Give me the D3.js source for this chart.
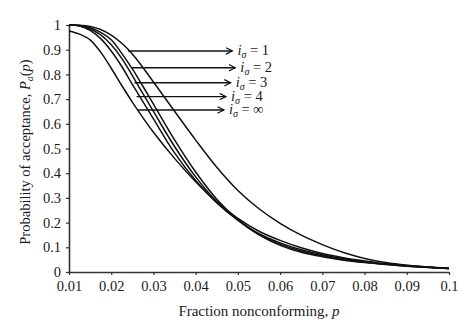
<!DOCTYPE html>
<html><head><meta charset="utf-8">
<script src="https://cdn.jsdelivr.net/npm/d3@7"></script>
<style>
html,body{margin:0;padding:0;background:#fff;}
svg text{font-family:"Liberation Serif","DejaVu Serif",serif;fill:#1a1a1a;}
</style>
</head><body>
<svg id="c" width="474" height="336"></svg>
<script>
// ---- data ----
const pValues = [0.01,0.0125,0.015,0.0175,0.02,0.0225,0.025,0.0275,0.03,0.035,0.04,0.045,0.05,0.055,0.06,0.065,0.07,0.075,0.08,0.085,0.09,0.095,0.1];
const pa_i1   = [1.000,0.999,0.994,0.982,0.959,0.926,0.883,0.828,0.769,0.651,0.534,0.424,0.330,0.256,0.197,0.149,0.111,0.079,0.055,0.038,0.027,0.020,0.014];
const pa_i2   = [1.000,0.998,0.989,0.970,0.940,0.885,0.822,0.752,0.680,0.535,0.405,0.295,0.212,0.150,0.108,0.080,0.062,0.048,0.038,0.030,0.023,0.018,0.014];
const pa_i3   = [1.000,0.997,0.984,0.960,0.920,0.865,0.795,0.722,0.650,0.508,0.385,0.285,0.210,0.152,0.113,0.085,0.066,0.051,0.040,0.031,0.024,0.019,0.014];
const pa_i4   = [1.000,0.996,0.978,0.945,0.895,0.832,0.760,0.690,0.620,0.482,0.370,0.280,0.210,0.155,0.118,0.090,0.070,0.054,0.042,0.032,0.025,0.019,0.014];
const pa_inf  = [0.976,0.963,0.940,0.890,0.825,0.755,0.688,0.625,0.566,0.460,0.365,0.283,0.217,0.165,0.128,0.098,0.075,0.058,0.045,0.034,0.026,0.020,0.015];
const seriesNames = ["1","2","3","4","∞"];
// arrow anchors: p on the curve and Pa level, label arrow tip p
const arrowP     = [0.0240,0.0248,0.0255,0.0260,0.0263];
const arrowPa    = [0.895,0.827,0.766,0.710,0.656];
const arrowTipP  = [0.0487,0.0494,0.0483,0.0472,0.0467];
const xTicks = [0.01,0.02,0.03,0.04,0.05,0.06,0.07,0.08,0.09,0.1];
const xTickLabels = ["0.01","0.02","0.03","0.04","0.05","0.06","0.07","0.08","0.09","0.1"];
const yTicks = [0,0.1,0.2,0.3,0.4,0.5,0.6,0.7,0.8,0.9,1];
const yTickLabels = ["0","0.1","0.2","0.3","0.4","0.5","0.6","0.7","0.8","0.9","1"];

const series = [pa_i1,pa_i2,pa_i3,pa_i4,pa_inf];

// ---- layout ----
const W=474,H=336, m={top:25,right:25,bottom:64,left:69};
const svg=d3.select("#c");
const x=d3.scaleLinear().domain([0.01,0.1]).range([m.left,W-m.right]);
const y=d3.scaleLinear().domain([0,1]).range([H-m.bottom,m.top]);

// axes
const xa=svg.append("g").attr("transform",`translate(0,${H-m.bottom})`)
  .call(d3.axisBottom(x).tickValues(xTicks).tickFormat((d,i)=>xTickLabels[i]).tickSize(3).tickSizeOuter(0));
const ya=svg.append("g").attr("transform",`translate(${m.left},0)`)
  .call(d3.axisLeft(y).tickValues(yTicks).tickFormat((d,i)=>yTickLabels[i]).tickSize(3).tickSizeOuter(0));
[xa,ya].forEach(g=>{
  g.select(".domain").attr("stroke","#333").attr("stroke-width",1.6);
  g.selectAll(".tick line").attr("stroke","#333").attr("stroke-width",1.2);
  g.selectAll(".tick text").attr("font-family","Liberation Serif, serif").attr("font-size",14.5).attr("fill","#1a1a1a");
});
xa.selectAll(".tick text").attr("dy","1.05em").attr("y",4);
ya.selectAll(".tick text").attr("x",-8);

// curves
const line=d3.line().x((d,i)=>x(pValues[i])).y(d=>y(d)).curve(d3.curveCatmullRom.alpha(0.5));
svg.append("g").selectAll("path").data(series).join("path")
  .attr("d",line).attr("fill","none").attr("stroke","#111").attr("stroke-width",1.5);

// arrow marker (open chevron)
svg.append("defs").append("marker").attr("id","arr")
  .attr("viewBox","0 0 10 10").attr("refX",9).attr("refY",5)
  .attr("markerWidth",8).attr("markerHeight",8).attr("markerUnits","userSpaceOnUse")
  .attr("orient","auto")
  .append("path").attr("d","M1,1 L9,5 L1,9").attr("fill","none").attr("stroke","#111").attr("stroke-width",1.5);

const ag=svg.append("g");
seriesNames.forEach((n,i)=>{
  ag.append("line").attr("x1",x(arrowP[i])).attr("x2",x(arrowTipP[i]))
    .attr("y1",y(arrowPa[i])).attr("y2",y(arrowPa[i]))
    .attr("stroke","#111").attr("stroke-width",1.4).attr("marker-end","url(#arr)");
  const t=ag.append("text").attr("x",x(arrowTipP[i])+5).attr("y",y(arrowPa[i])+4).attr("font-size",14.5);
  t.append("tspan").attr("font-style","italic").text("i");
  t.append("tspan").attr("font-style","italic").attr("font-size",10).attr("dy",3).text("σ");
  t.append("tspan").attr("dy",-3).text(" = "+n);
});

// axis titles
const xt=svg.append("text").attr("x",(m.left+W-m.right)/2).attr("y",316).attr("text-anchor","middle").attr("font-size",15);
xt.append("tspan").text("Fraction nonconforming, ");
xt.append("tspan").attr("font-style","italic").text("p");

const yt=svg.append("text").attr("transform",`translate(30,152) rotate(-90)`).attr("text-anchor","middle").attr("font-size",14.5);
yt.append("tspan").text("Probability of acceptance, ");
yt.append("tspan").attr("font-style","italic").text("P");
yt.append("tspan").attr("font-style","italic").attr("font-size",10).attr("dy",3).text("a");
yt.append("tspan").attr("dy",-3).text("(");
yt.append("tspan").attr("font-style","italic").text("p");
yt.append("tspan").text(")");
</script>
</body></html>
